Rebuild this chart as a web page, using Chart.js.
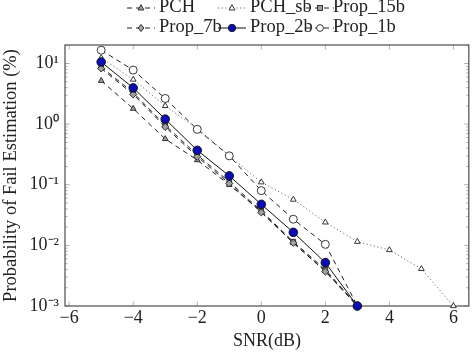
<!DOCTYPE html>
<html><head><meta charset="utf-8">
<script src="https://cdn.jsdelivr.net/npm/chart.js@4"></script>
<style>
html,body{margin:0;padding:0;background:#fff;}
#wrap{position:relative;width:474px;height:353px;font-family:"Liberation Serif",serif;overflow:hidden;}
canvas{position:absolute;left:0;top:0;}
.leg{position:absolute;font-size:18.5px;line-height:20px;color:#222;white-space:nowrap;}
.smp{position:absolute;}
</style></head><body>
<div id="wrap"><canvas id="c" width="474" height="353"></canvas><div id="legend"></div></div>
<script>
// ---- data ----
const snr = [-5,-4,-3,-2,-1,0,1,2,3];
const snrSb = [-5,-4,-3,-2,-1,0,1,2,3,4,5,6];
const pch = [5.2,1.8,0.57,0.255,0.1,0.036,0.011,0.0038,0.001];
const pchSb = [12.4,5.45,2.0,0.85,0.30,0.11,0.057,0.024,0.0115,0.0084,0.0041,0.001];
const prop15b = [8.8,3.3,0.96,0.31,0.112,0.037,0.0115,0.0040,0.001];
const prop7b = [8.3,3.1,0.9,0.29,0.105,0.035,0.011,0.0037,0.001];
const prop2b = [10.6,3.96,1.21,0.37,0.14,0.0475,0.0164,0.0052,0.001];
const prop1b = [16.6,7.8,2.65,0.82,0.30,0.080,0.027,0.0104,0.001];
const xTicks = [-6,-4,-2,0,2,4,6];
const yTicks = [1e-3,1e-2,1e-1,1,10];
const yTickLabels = ['10⁻³','10⁻²','10⁻¹','10⁰','10¹'];
const xTitle = 'SNR(dB)';
const yTitle = 'Probability of Fail Estimation (%)';

// ---- styles ----
const FONT = 'Liberation Serif';
const styles = {
  'PCH':      {dash:[5,4], color:'#222', lw:1, point:'triangle', fill:'#a0a0a0', pb:'#222', r:3.3},
  'PCH_sb':   {dash:[1.2,2.5], color:'#666', lw:1, point:'triangle', fill:'#ffffff', pb:'#222', r:3.3},
  'Prop_15b': {dash:[5,4], color:'#222', lw:1, point:'rect', fill:'#a0a0a0', pb:'#222', r:3.3},
  'Prop_7b':  {dash:[5,4], color:'#222', lw:1, point:'rectRot', fill:'#a0a0a0', pb:'#222', r:3.6},
  'Prop_2b':  {dash:[], color:'#111', lw:1, point:'circle', fill:'#0c0cb4', pb:'#111', r:4.3},
  'Prop_1b':  {dash:[5,4], color:'#222', lw:1, point:'circle', fill:'#ffffff', pb:'#222', r:4}
};
const series = [
  ['PCH', snr, pch, 3],
  ['PCH_sb', snrSb, pchSb, 5],
  ['Prop_15b', snr, prop15b, 2],
  ['Prop_7b', snr, prop7b, 1],
  ['Prop_2b', snr, prop2b, 0],
  ['Prop_1b', snr, prop1b, 4]
];

function ds(name, xs, ys, order){
  const st = styles[name];
  return {label:name, data: xs.map((x,i)=>({x:x, y:ys[i]})),
    borderColor:st.color, borderWidth:st.lw, borderDash:st.dash,
    pointStyle:st.point, pointRadius:st.r, pointHoverRadius:st.r,
    pointBackgroundColor:st.fill, pointBorderColor:st.pb, pointBorderWidth:0.9,
    tension:0, clip:false, order:order, fill:false};
}

const frame = {id:'frame', beforeDatasetsDraw(chart){
  const {ctx, chartArea:a, scales:{x,y}} = chart;
  ctx.save();
  ctx.strokeStyle='#9a9a9a'; ctx.lineWidth=0.8;
  function ln(x1,y1,x2,y2){ctx.beginPath();ctx.moveTo(x1,y1);ctx.lineTo(x2,y2);ctx.stroke();}
  xTicks.forEach(v=>{const px=x.getPixelForValue(v); ln(px,a.bottom,px,a.bottom-4.5); ln(px,a.top,px,a.top+4.5);});
  for(let k=-3;k<=1;k++){ for(let m=1;m<=9;m++){ const v=m*Math.pow(10,k); if(v>y.max) break;
    const py=y.getPixelForValue(v); const len=(m===1)?4.5:2.6; ln(a.left,py,a.left+len,py); ln(a.right,py,a.right-len,py);} }
  ctx.strokeStyle='#5a5a5a'; ctx.lineWidth=1.3;
  ctx.strokeRect(a.left,a.top,a.right-a.left,a.bottom-a.top);
  ctx.restore();
}};

Chart.defaults.font.family = FONT;
new Chart(document.getElementById('c'), {
  type:'line',
  data:{datasets: series.map(s=>ds(s[0],s[1],s[2],s[3]))},
  options:{
    responsive:false, devicePixelRatio:1, animation:false,
    layout:{padding:{top:45,right:1,left:0,bottom:0}},
    plugins:{legend:{display:false}, tooltip:{enabled:false}},
    scales:{
      x:{type:'linear', min:-6.13, max:6.48,
        afterBuildTicks:s=>{s.ticks = xTicks.map(v=>({value:v}));},
        afterFit:s=>{s.height=47;},
        ticks:{callback:v=>(v<0?'−':'')+Math.abs(v), font:{family:FONT,size:18}, color:'#222', padding:1, maxRotation:0, autoSkip:false},
        grid:{display:false, drawTicks:false}, border:{display:false},
        title:{display:true, text:xTitle, font:{family:FONT,size:18}, color:'#222', padding:{top:0,bottom:1}}},
      y:{type:'logarithmic', min:1e-3, max:20.2,
        afterBuildTicks:s=>{s.ticks = yTicks.map(v=>({value:v}));},
        afterFit:s=>{s.width=65;},
        ticks:{callback:(v,i)=>yTickLabels[i], font:{family:FONT,size:18}, color:'#222', padding:6, autoSkip:false},
        grid:{display:false, drawTicks:false}, border:{display:false},
        title:{display:true, text:yTitle, font:{family:FONT,size:18.5}, color:'#222', padding:{top:0,bottom:1}}}
    }
  },
  plugins:[frame]
});

// ---- HTML legend ----
const legendRows = [['PCH','PCH_sb','Prop_15b'],['Prop_7b','Prop_2b','Prop_1b']];
const colSample = [127,218,306];
const colText = [159,250,333];
const rowTop = [-4,16];
const leg = document.getElementById('legend');
function markerSvg(st, cx, cy){
  const r = st.r, f = st.fill, b = st.pb;
  if(st.point==='triangle') return `<polygon points="${cx},${cy-r} ${cx-r*0.9},${cy+r*0.6} ${cx+r*0.9},${cy+r*0.6}" fill="${f}" stroke="${b}" stroke-width="0.9"/>`;
  if(st.point==='rect') return `<rect x="${cx-r*0.75}" y="${cy-r*0.75}" width="${r*1.5}" height="${r*1.5}" fill="${f}" stroke="${b}" stroke-width="0.9"/>`;
  if(st.point==='rectRot') return `<polygon points="${cx},${cy-r} ${cx+r*0.8},${cy} ${cx},${cy+r} ${cx-r*0.8},${cy}" fill="${f}" stroke="${b}" stroke-width="0.9"/>`;
  return `<circle cx="${cx}" cy="${cy}" r="${r*0.85}" fill="${f}" stroke="${b}" stroke-width="0.9"/>`;
}
legendRows.forEach((row,ri)=>row.forEach((name,ci)=>{
  const st = styles[name];
  const svg = document.createElement('div');
  svg.className='smp';
  svg.style.left = colSample[ci]+'px'; svg.style.top = (rowTop[ri]+4)+'px';
  svg.innerHTML = `<svg width="28" height="12" xmlns="http://www.w3.org/2000/svg"><line x1="0" y1="6" x2="28" y2="6" stroke="${st.color}" stroke-width="${st.lw}" ${st.dash.length?`stroke-dasharray="${st.dash.join(',')}"`:''}/>${markerSvg(st,14,6)}</svg>`;
  leg.appendChild(svg);
  const t = document.createElement('div');
  t.className='leg'; t.textContent = name;
  t.style.left = colText[ci]+'px'; t.style.top = rowTop[ri]+'px';
  leg.appendChild(t);
}));
</script>
</body></html>
